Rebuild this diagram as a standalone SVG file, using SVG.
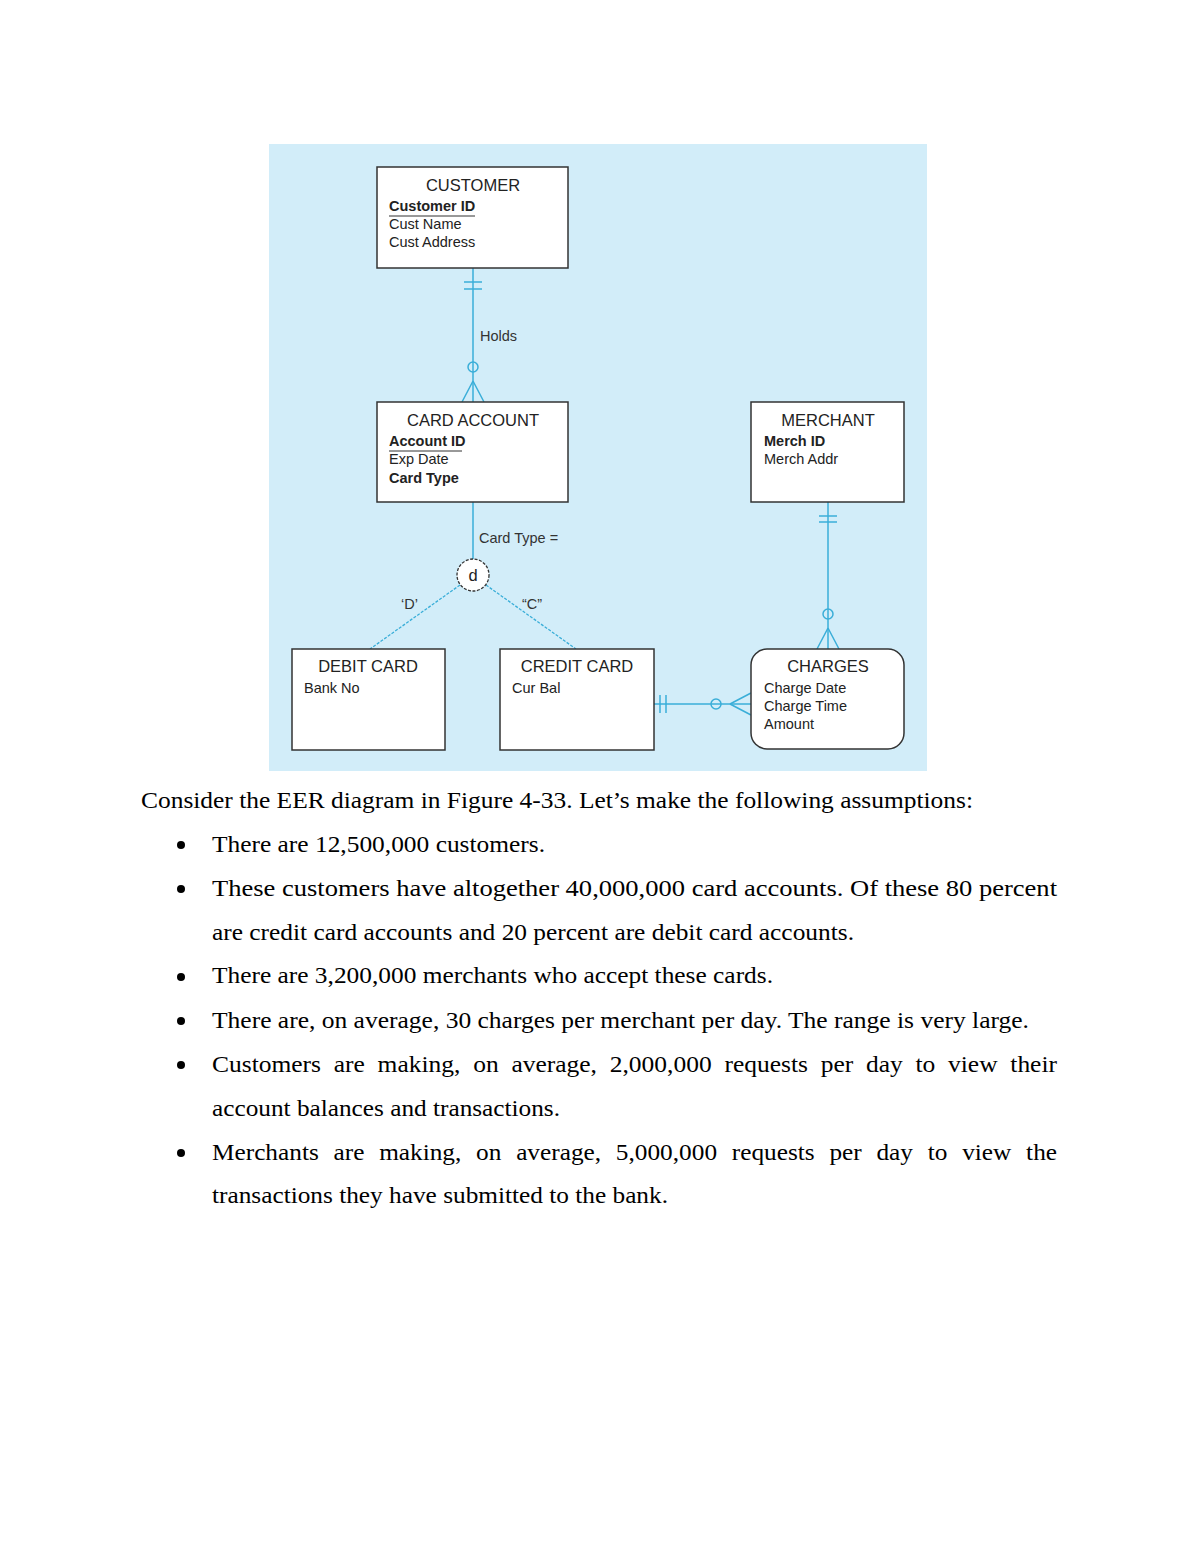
<svg xmlns="http://www.w3.org/2000/svg" width="1200" height="1553" viewBox="0 0 1200 1553">
<style>
.box{fill:#fff;stroke:#333;stroke-width:1.5}
.ttl{font-family:"Liberation Sans",Arial,sans-serif;font-size:16.5px;fill:#222;text-anchor:middle}
.att{font-family:"Liberation Sans",Arial,sans-serif;font-size:14.5px;fill:#222}
.b{font-weight:bold}
.lbl{font-family:"Liberation Sans",Arial,sans-serif;font-size:14.5px;fill:#333}
.ln{stroke:#3aaed8;stroke-width:1.5;fill:none}
.dl{stroke:#3aaed8;stroke-width:1.3;fill:none;stroke-dasharray:3,1.5}
.body{font-family:"Liberation Serif","Times New Roman",serif;font-size:24px;fill:#000}
</style>
<rect x="0" y="0" width="1200" height="1553" fill="#fff"/>
<rect x="269" y="144" width="658" height="627" fill="#d2edf9"/>

<g id="connectors">
  <line class="ln" x1="473" y1="268" x2="473" y2="402"/>
  <line class="ln" x1="464" y1="282" x2="482" y2="282"/>
  <line class="ln" x1="464" y1="289" x2="482" y2="289"/>
  <circle class="ln" cx="473" cy="367" r="5"/>
  <path class="ln" d="M473,381 L462,402 M473,381 L484,402"/>
  <line class="ln" x1="473" y1="502" x2="473" y2="559"/>
  <line class="dl" x1="460" y1="585" x2="370" y2="649"/>
  <line class="dl" x1="486" y1="585" x2="576" y2="649"/>
  <line class="ln" x1="828" y1="502" x2="828" y2="649"/>
  <line class="ln" x1="819" y1="516" x2="837" y2="516"/>
  <line class="ln" x1="819" y1="522" x2="837" y2="522"/>
  <circle class="ln" cx="828" cy="614" r="5"/>
  <path class="ln" d="M828,628 L817,649 M828,628 L839,649"/>
  <line class="ln" x1="654" y1="704" x2="751" y2="704"/>
  <line class="ln" x1="660" y1="695" x2="660" y2="713"/>
  <line class="ln" x1="666" y1="695" x2="666" y2="713"/>
  <circle class="ln" cx="716" cy="704" r="5"/>
  <path class="ln" d="M730,704 L751,693 M730,704 L751,715"/>
</g>
<text class="lbl" x="480" y="341">Holds</text>
<text class="lbl" x="479" y="543">Card Type =</text>
<text class="lbl" x="401" y="609">‘D’</text>
<text class="lbl" x="522" y="609">“C”</text>

<g id="customer">
  <rect class="box" x="377" y="167" width="191" height="101"/>
  <text class="ttl" x="473" y="191">CUSTOMER</text>
  <text class="att b" x="389" y="211">Customer ID</text>
  <line x1="389" y1="216" x2="475" y2="216" stroke="#333" stroke-width="1"/>
  <text class="att" x="389" y="229">Cust Name</text>
  <text class="att" x="389" y="247">Cust Address</text>
</g>

<g id="card-account">
  <rect class="box" x="377" y="402" width="191" height="100"/>
  <text class="ttl" x="473" y="426">CARD ACCOUNT</text>
  <text class="att b" x="389" y="446">Account ID</text>
  <line x1="389" y1="451" x2="462" y2="451" stroke="#333" stroke-width="1"/>
  <text class="att" x="389" y="464">Exp Date</text>
  <text class="att b" x="389" y="483">Card Type</text>
</g>

<g id="merchant">
  <rect class="box" x="751" y="402" width="153" height="100"/>
  <text class="ttl" x="828" y="426">MERCHANT</text>
  <text class="att b" x="764" y="446">Merch ID</text>
  <text class="att" x="764" y="464">Merch Addr</text>
</g>

<g id="d-circle">
  <circle cx="473" cy="575" r="16" fill="#fff" stroke="#333" stroke-width="1.3" stroke-dasharray="3,1.5"/>
  <text class="ttl" x="473" y="581">d</text>
</g>

<g id="debit-card">
  <rect class="box" x="292" y="649" width="153" height="101"/>
  <text class="ttl" x="368" y="672">DEBIT CARD</text>
  <text class="att" x="304" y="693">Bank No</text>
</g>

<g id="credit-card">
  <rect class="box" x="500" y="649" width="154" height="101"/>
  <text class="ttl" x="577" y="672">CREDIT CARD</text>
  <text class="att" x="512" y="693">Cur Bal</text>
</g>

<g id="charges">
  <rect class="box" x="751" y="649" width="153" height="100" rx="16" ry="16"/>
  <text class="ttl" x="828" y="672">CHARGES</text>
  <text class="att" x="764" y="693">Charge Date</text>
  <text class="att" x="764" y="711">Charge Time</text>
  <text class="att" x="764" y="729">Amount</text>
</g>

<g id="text">
  <text class="body" x="141" y="808" textLength="832" lengthAdjust="spacingAndGlyphs">Consider the EER diagram in Figure 4-33. Let’s make the following assumptions:</text>
  <circle cx="181" cy="845" r="4"/>
  <text class="body" x="212" y="852" textLength="333" lengthAdjust="spacingAndGlyphs">There are 12,500,000 customers.</text>
  <circle cx="181" cy="889" r="4"/>
  <text class="body" x="212" y="896" textLength="845" lengthAdjust="spacingAndGlyphs">These customers have altogether 40,000,000 card accounts. Of these 80 percent</text>
  <text class="body" x="212" y="940" textLength="642" lengthAdjust="spacingAndGlyphs">are credit card accounts and 20 percent are debit card accounts.</text>
  <circle cx="181" cy="977" r="4"/>
  <text class="body" x="212" y="983" textLength="561" lengthAdjust="spacingAndGlyphs">There are 3,200,000 merchants who accept these cards.</text>
  <circle cx="181" cy="1021" r="4"/>
  <text class="body" x="212" y="1028" textLength="817" lengthAdjust="spacingAndGlyphs">There are, on average, 30 charges per merchant per day. The range is very large.</text>
  <circle cx="181" cy="1065" r="4"/>
  <text class="body" x="212" y="1072" textLength="845" lengthAdjust="spacingAndGlyphs" word-spacing="6">Customers are making, on average, 2,000,000 requests per day to view their</text>
  <text class="body" x="212" y="1116" textLength="348" lengthAdjust="spacingAndGlyphs">account balances and transactions.</text>
  <circle cx="181" cy="1153" r="4"/>
  <text class="body" x="212" y="1160" textLength="845" lengthAdjust="spacingAndGlyphs" word-spacing="8">Merchants are making, on average, 5,000,000 requests per day to view the</text>
  <text class="body" x="212" y="1203" textLength="456" lengthAdjust="spacingAndGlyphs">transactions they have submitted to the bank.</text>
</g>
</svg>
